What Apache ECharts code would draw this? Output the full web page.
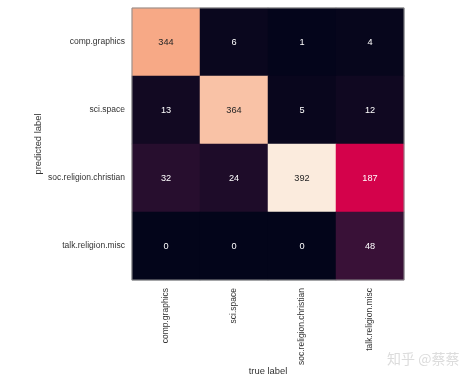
<!DOCTYPE html>
<html>
<head>
<meta charset="utf-8">
<script src="https://cdn.jsdelivr.net/npm/echarts@6/dist/echarts.min.js"></script>
<style>html,body{margin:0;padding:0;background:#fff;}#c{width:474px;height:381px;}</style>
</head>
<body>
<div id="c"></div>
<script>
const trueLabels = ['comp.graphics', 'sci.space', 'soc.religion.christian', 'talk.religion.misc'];
const predLabels = ['comp.graphics', 'sci.space', 'soc.religion.christian', 'talk.religion.misc'];
// rows = predicted label, columns = true label
const rowCompGraphics = [344, 6, 1, 4];
const rowSciSpace = [13, 364, 5, 12];
const rowSocReligion = [32, 24, 392, 187];
const rowTalkReligion = [0, 0, 0, 48];
const matrix = [rowCompGraphics, rowSciSpace, rowSocReligion, rowTalkReligion];

const data = [];
matrix.forEach((row, r) => row.forEach((v, c) => {
  data.push({ value: [c, r, v], label: { color: v > 250 ? '#262626' : '#ffffff' } });
}));

const chart = echarts.init(document.getElementById('c'), null, { renderer: 'canvas' });
const font = 'Liberation Sans, Arial, sans-serif';
chart.setOption({
  backgroundColor: '#ffffff',
  animation: false,
  grid: { left: 132, top: 8, width: 272, height: 272, outerBoundsMode: 'none', containLabel: false, show: true, borderColor: '#8c8c8c', borderWidth: 1, backgroundColor: 'transparent', z: 10 },
  xAxis: {
    type: 'category', data: trueLabels, position: 'bottom',
    axisLine: { show: false }, axisTick: { show: false }, splitLine: { show: false },
    axisLabel: { rotate: 90, margin: 8, fontSize: 8.5, color: '#333333', fontFamily: font },
    name: 'true label', nameLocation: 'middle', nameGap: 87, nameMoveOverlap: false,
    nameTextStyle: { fontSize: 9.4, color: '#333333', fontFamily: font }
  },
  yAxis: {
    type: 'category', data: predLabels, inverse: true,
    axisLine: { show: false }, axisTick: { show: false }, splitLine: { show: false },
    axisLabel: { margin: 7, fontSize: 8.5, color: '#333333', fontFamily: font },
    name: 'predicted label', nameLocation: 'middle', nameGap: 89, nameMoveOverlap: false,
    nameTextStyle: { fontSize: 9.4, color: '#333333', fontFamily: font }
  },
  visualMap: {
    show: false, type: 'continuous', min: 0, max: 392, dimension: 2,
    inRange: { color: ['#03051a', '#2f1032', '#5a1448', '#83125a', '#b40856', '#de0048', '#e8303f', '#f05a45', '#f58a64', '#f8b290', '#fbebdd'] }
  },
  series: [{
    type: 'heatmap', data: data,
    label: { show: true, fontSize: 9.2, fontFamily: font },
    itemStyle: { borderWidth: 0 }
  }],
  graphic: [{
    type: 'text', left: 387, top: 352, z: 100,
    style: { text: '知乎 @蔡蔡', fontSize: 14, fill: '#dcdcdc', fontFamily: 'Noto Sans CJK SC, sans-serif' }
  }]
});
</script>
</body>
</html>
